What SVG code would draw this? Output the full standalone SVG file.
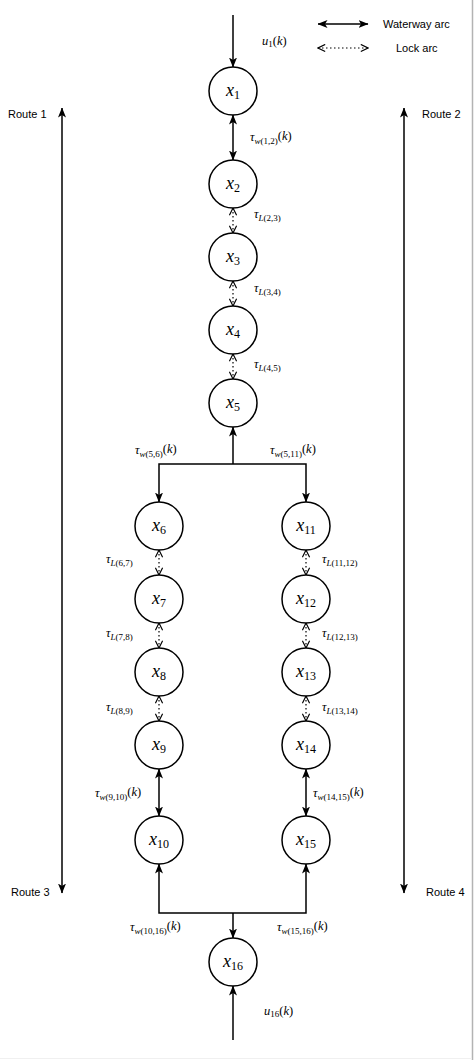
<svg xmlns="http://www.w3.org/2000/svg" width="474" height="1060" viewBox="0 0 474 1060">
<style>
.n{fill:#fff;stroke:#000;stroke-width:1.5}
.nl{font-family:"Liberation Serif","DejaVu Serif",serif;font-style:italic;font-size:18px;text-anchor:middle}
.nl .s{font-style:normal;font-size:12px}
.w{stroke:#000;stroke-width:1.5;fill:none;marker-start:url(#af);marker-end:url(#af)}
.one{stroke:#000;stroke-width:1.5;fill:none;marker-end:url(#af)}
.lk{stroke:#000;stroke-width:1.2;fill:none;stroke-dasharray:1.5,2.5;marker-start:url(#ao);marker-end:url(#ao)}
.m{font-family:"Liberation Serif","DejaVu Serif",serif;font-style:italic;font-size:12.5px}
.m .s{font-size:9px}
.m .u{font-style:normal}
.t{font-family:"Liberation Sans",Arial,sans-serif;font-size:11px}
</style>
<defs>
<marker id="af" viewBox="0 0 10 10" refX="9.5" refY="5" markerWidth="10" markerHeight="10" markerUnits="userSpaceOnUse" orient="auto-start-reverse">
<path d="M0,1 L10,5 L0,9 L2.5,5 Z" fill="#000"/>
</marker>
<marker id="ao" viewBox="0 0 10 10" refX="9" refY="5" markerWidth="9" markerHeight="9" markerUnits="userSpaceOnUse" orient="auto-start-reverse">
<path d="M1,1 L9,5 L1,9" fill="none" stroke="#000" stroke-width="1.3"/>
</marker>
</defs>
<rect x="0" y="0" width="474" height="1060" fill="#fff"/>
<line x1="472.5" y1="0" x2="472.5" y2="1060" stroke="#b3b3b3" stroke-width="1.5"/>
<line x1="0" y1="1058.5" x2="472" y2="1058.5" stroke="#f0f0f0" stroke-width="1"/>

<g id="connectors">
<line class="one" x1="233" y1="15" x2="233" y2="67"/>
<line class="w" x1="233" y1="115" x2="233" y2="160"/>
<line class="lk" x1="233" y1="208" x2="233" y2="233"/>
<line class="lk" x1="233" y1="281" x2="233" y2="306"/>
<line class="lk" x1="233" y1="354" x2="233" y2="379"/>
<line class="one" x1="233" y1="464" x2="233" y2="427"/>
<path class="w" d="M159,502 V464 H306 V502"/>
<line class="lk" x1="159" y1="550" x2="159" y2="575"/>
<line class="lk" x1="159" y1="623" x2="159" y2="648"/>
<line class="lk" x1="159" y1="696" x2="159" y2="721"/>
<line class="w" x1="159" y1="769" x2="159" y2="816"/>
<line class="lk" x1="306" y1="550" x2="306" y2="575"/>
<line class="lk" x1="306" y1="623" x2="306" y2="648"/>
<line class="lk" x1="306" y1="696" x2="306" y2="721"/>
<line class="w" x1="306" y1="769" x2="306" y2="816"/>
<path class="w" d="M159,864 V913 H306 V864"/>
<line class="one" x1="233" y1="913" x2="233" y2="938"/>
<line class="one" x1="233" y1="1040" x2="233" y2="986"/>
<line class="w" x1="62" y1="108" x2="62" y2="893"/>
<line class="w" x1="404" y1="108" x2="404" y2="893"/>
<line class="w" x1="318" y1="24" x2="368" y2="24"/>
<line class="lk" x1="318" y1="48" x2="368" y2="48"/>
</g>

<g id="x1"><circle class="n" cx="233" cy="91" r="24"/><text class="nl" x="233" y="96">x<tspan class="s" dy="3">1</tspan></text></g>
<g id="x2"><circle class="n" cx="233" cy="184" r="24"/><text class="nl" x="233" y="189">x<tspan class="s" dy="3">2</tspan></text></g>
<g id="x3"><circle class="n" cx="233" cy="257" r="24"/><text class="nl" x="233" y="262">x<tspan class="s" dy="3">3</tspan></text></g>
<g id="x4"><circle class="n" cx="233" cy="330" r="24"/><text class="nl" x="233" y="335">x<tspan class="s" dy="3">4</tspan></text></g>
<g id="x5"><circle class="n" cx="233" cy="403" r="24"/><text class="nl" x="233" y="408">x<tspan class="s" dy="3">5</tspan></text></g>
<g id="x6"><circle class="n" cx="159" cy="526" r="24"/><text class="nl" x="159" y="531">x<tspan class="s" dy="3">6</tspan></text></g>
<g id="x7"><circle class="n" cx="159" cy="599" r="24"/><text class="nl" x="159" y="604">x<tspan class="s" dy="3">7</tspan></text></g>
<g id="x8"><circle class="n" cx="159" cy="672" r="24"/><text class="nl" x="159" y="677">x<tspan class="s" dy="3">8</tspan></text></g>
<g id="x9"><circle class="n" cx="159" cy="745" r="24"/><text class="nl" x="159" y="750">x<tspan class="s" dy="3">9</tspan></text></g>
<g id="x10"><circle class="n" cx="159" cy="840" r="24"/><text class="nl" x="159" y="845">x<tspan class="s" dy="3">10</tspan></text></g>
<g id="x11"><circle class="n" cx="306" cy="526" r="24"/><text class="nl" x="306" y="531">x<tspan class="s" dy="3">11</tspan></text></g>
<g id="x12"><circle class="n" cx="306" cy="599" r="24"/><text class="nl" x="306" y="604">x<tspan class="s" dy="3">12</tspan></text></g>
<g id="x13"><circle class="n" cx="306" cy="672" r="24"/><text class="nl" x="306" y="677">x<tspan class="s" dy="3">13</tspan></text></g>
<g id="x14"><circle class="n" cx="306" cy="745" r="24"/><text class="nl" x="306" y="750">x<tspan class="s" dy="3">14</tspan></text></g>
<g id="x15"><circle class="n" cx="306" cy="840" r="24"/><text class="nl" x="306" y="845">x<tspan class="s" dy="3">15</tspan></text></g>
<g id="x16"><circle class="n" cx="233" cy="962" r="24"/><text class="nl" x="233" y="967">x<tspan class="s" dy="3">16</tspan></text></g>

<g id="labels">
<text class="m" x="262" y="45">u<tspan class="s u" dy="2">1</tspan><tspan class="u" dy="-2">(</tspan>k<tspan class="u">)</tspan></text>
<text class="m" x="250" y="141">τ<tspan class="s" dy="3">w</tspan><tspan class="s u">(1,2)</tspan><tspan class="u" dy="-4">(</tspan>k<tspan class="u">)</tspan></text>
<text class="m" x="254" y="218">τ<tspan class="s" dy="3">L</tspan><tspan class="s u">(2,3)</tspan></text>
<text class="m" x="254" y="292">τ<tspan class="s" dy="3">L</tspan><tspan class="s u">(3,4)</tspan></text>
<text class="m" x="254" y="368">τ<tspan class="s" dy="3">L</tspan><tspan class="s u">(4,5)</tspan></text>
<text class="m" x="135" y="454">τ<tspan class="s" dy="3">w</tspan><tspan class="s u">(5,6)</tspan><tspan class="u" dy="-4">(</tspan>k<tspan class="u">)</tspan></text>
<text class="m" x="270" y="454">τ<tspan class="s" dy="3">w</tspan><tspan class="s u">(5,11)</tspan><tspan class="u" dy="-4">(</tspan>k<tspan class="u">)</tspan></text>
<text class="m" x="106" y="563">τ<tspan class="s" dy="3">L</tspan><tspan class="s u">(6,7)</tspan></text>
<text class="m" x="106" y="637">τ<tspan class="s" dy="3">L</tspan><tspan class="s u">(7,8)</tspan></text>
<text class="m" x="106" y="711">τ<tspan class="s" dy="3">L</tspan><tspan class="s u">(8,9)</tspan></text>
<text class="m" x="322" y="563">τ<tspan class="s" dy="3">L</tspan><tspan class="s u">(11,12)</tspan></text>
<text class="m" x="322" y="637">τ<tspan class="s" dy="3">L</tspan><tspan class="s u">(12,13)</tspan></text>
<text class="m" x="322" y="711">τ<tspan class="s" dy="3">L</tspan><tspan class="s u">(13,14)</tspan></text>
<text class="m" x="95" y="797">τ<tspan class="s" dy="3">w</tspan><tspan class="s u">(9,10)</tspan><tspan class="u" dy="-4">(</tspan>k<tspan class="u">)</tspan></text>
<text class="m" x="313" y="797">τ<tspan class="s" dy="3">w</tspan><tspan class="s u">(14,15)</tspan><tspan class="u" dy="-4">(</tspan>k<tspan class="u">)</tspan></text>
<text class="m" x="130" y="931">τ<tspan class="s" dy="3">w</tspan><tspan class="s u">(10,16)</tspan><tspan class="u" dy="-4">(</tspan>k<tspan class="u">)</tspan></text>
<text class="m" x="277" y="931">τ<tspan class="s" dy="3">w</tspan><tspan class="s u">(15,16)</tspan><tspan class="u" dy="-4">(</tspan>k<tspan class="u">)</tspan></text>
<text class="m" x="264" y="1015">u<tspan class="s u" dy="2">16</tspan><tspan class="u" dy="-2">(</tspan>k<tspan class="u">)</tspan></text>
<text class="t" x="383" y="28">Waterway arc</text>
<text class="t" x="396" y="52">Lock arc</text>
<text class="t" x="8" y="118">Route 1</text>
<text class="t" x="422" y="118">Route 2</text>
<text class="t" x="11" y="896">Route 3</text>
<text class="t" x="426" y="896">Route 4</text>
</g>
</svg>
